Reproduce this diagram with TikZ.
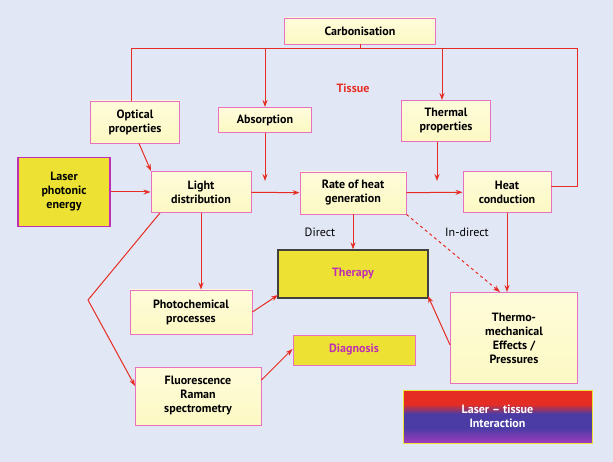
\documentclass[tikz,border=0pt]{standalone}
\usepackage{fontspec}
\setmainfont{PT Sans}
\usetikzlibrary{arrows.meta}
\definecolor{bg}{RGB}{226,231,246}
\definecolor{bx}{RGB}{253,249,195}
\definecolor{bxb}{RGB}{232,112,190}
\definecolor{yl}{RGB}{237,226,52}
\definecolor{mg}{RGB}{190,45,180}
\definecolor{rd}{RGB}{230,45,35}
\definecolor{bl}{RGB}{75,60,165}
\definecolor{pu}{RGB}{160,60,190}
\begin{document}
\begin{tikzpicture}[x=1pt,y=-1pt,
 font=\fontsize{12}{14}\selectfont\bfseries,
 box/.style={draw=bxb,line width=0.9pt,top color=white!40!bx,bottom color=bx,align=center,inner sep=0pt,minimum width=#1},
 ybox/.style={draw=mg,line width=1.3pt,fill=yl,align=center,inner sep=0pt},
 ar/.style={draw=rd,line width=1pt,-{Stealth[length=7pt,width=5pt]}},
 ln/.style={draw=rd,line width=1pt}]
\fill[bg] (0,0) rectangle (613,462);
\node[box=151,minimum height=26] (carb) at (360,31) {Carbonisation};
\node[text=rd] (tis) at (353,88) {Tissue};
\node[box=89,minimum height=42] (opt) at (135,122) {Optical\\properties};
\node[box=93,minimum height=25] (abs) at (265,120) {Absorption};
\node[box=89,minimum height=41] (thp) at (446,121) {Thermal\\properties};
\node[ybox,minimum width=92,minimum height=69] (las) at (64,192) {Laser\\photonic\\energy};
\node[box=100,minimum height=41] (ld) at (201,192) {Light\\distribution};
\node[box=106,minimum height=42] (rhg) at (353,193) {Rate of heat\\generation};
\node[box=88,minimum height=41] (hc) at (507,192) {Heat\\conduction};
\node[ybox,draw=black!75,text=mg,minimum width=150,minimum height=48] (ther) at (353,274) {Therapy};
\node[box=122,minimum height=44] (pc) at (191,312) {Photochemical\\processes};
\node[box=127,minimum height=91] (tm) at (514,338) {Thermo-\\mechanical\\Effects /\\Pressures};
\node[ybox,draw=bxb,line width=1pt,text=mg,minimum width=122,minimum height=30] (dia) at (354,350) {Diagnosis};
\node[box=126,minimum height=58] (fl) at (198,396) {Fluorescence\\Raman\\spectrometry};
\fill[rd] (403,390) rectangle (592,404);
\shade[top color=rd,bottom color=bl] (403,404) rectangle (592,414);
\fill[bl] (403,414) rectangle (592,428);
\shade[top color=bl,bottom color=pu] (403,428) rectangle (592,443);
\node[draw=yl,line width=1pt,text=white,align=center,minimum width=189,minimum height=53,inner sep=0pt] (lti) at (497.5,416.5) {Laser -- tissue\\Interaction};
\node (dir) at (320,232) [font=\fontsize{12}{14}\selectfont] {Direct};
\node (ind) at (467,232) [font=\fontsize{12}{14}\selectfont] {In-direct};
% top loop
\coordinate (c1) at (577,187);
\coordinate (c2) at (577,49);
\coordinate (c3) at (131,49);
\coordinate (c4) at (265,49);
\coordinate (c5) at (442,49);
\coordinate (c6) at (360,49);
\draw[ln] (hc.east |- c1) -- (c1) -- (c2) -- (c3) -- (opt.north -| c3);
\draw[ln] (carb.south) -- (c6);
\draw[ar] (c4) -- (abs.north);
\draw[ar] (c5) -- (thp.north -| c5);
\draw[ar] ([xshift=4pt]opt.south) -- ([xshift=-50pt]ld.north);
\coordinate (a1) at (265,181);
\coordinate (a2) at (437,181);
\draw[ar] (abs.south) -- (a1);
\draw[ar] (thp.south -| a2) -- (a2);
\draw[ar] (las) -- (ld);
\draw[ar] (ld) -- (rhg);
\draw[ar] (rhg) -- (hc);
\draw[ar] (rhg.south) -- (ther.north);
\draw[ar,dashed] (rhg.south east) -- ([xshift=-14pt]tm.north);
\draw[ar] (hc.south) -- (hc.south |- tm.north);
\draw[ar] (ld.south) -- (ld.south |- pc.north);
\coordinate (b1) at (88,300);
\coordinate (t1) at (278,295);
\coordinate (t2) at (428,296);
\coordinate (f1) at (135,386);
\draw[ln] ([xshift=-41pt]ld.south) -- (b1);
\draw[ar] (b1) -- (f1);
\draw[ar] (pc.east) -- (t1);
\draw[ar] ([yshift=-7pt]tm.west) -- (t2);
\draw[ar] ([yshift=16pt]fl.east) -- ([yshift=1pt]dia.west);
\end{tikzpicture}
\end{document}
